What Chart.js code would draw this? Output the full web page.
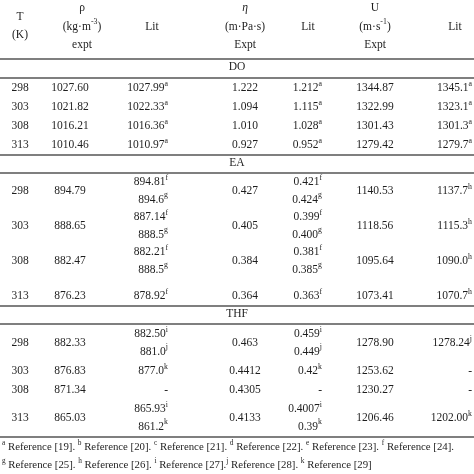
<!DOCTYPE html>
<html><head><meta charset="utf-8">
<script src="https://cdn.jsdelivr.net/npm/chart.js@4"></script>
<style>html,body{margin:0;padding:0;background:#fff}#w{width:474px;height:474px}</style>
</head><body><div id="w"><canvas id="c"></canvas></div>
<script>
const temps=[298,303,308,313];
const sections=["DO","EA","THF"];
const rhoExpt=[["1027.60","1021.82","1016.21","1010.46"],["894.79","888.65","882.47","876.23"],["882.33","876.83","871.34","865.03"]];
const rhoLit=[["1027.99^a","1022.33^a","1016.36^a","1010.97^a"],["894.81^f|894.6^g","887.14^f|888.5^g","882.21^f|888.5^g","878.92^f"],["882.50^i|881.0^j","877.0^k","-","865.93^i|861.2^k"]];
const etaExpt=[["1.222","1.094","1.010","0.927"],["0.427","0.405","0.384","0.364"],["0.463","0.4412","0.4305","0.4133"]];
const etaLit=[["1.212^a","1.115^a","1.028^a","0.952^a"],["0.421^f|0.424^g","0.399^f|0.400^g","0.381^f|0.385^g","0.363^f"],["0.459^i|0.449^j","0.42^k","-","0.4007^i|0.39^k"]];
const uExpt=[["1344.87","1322.99","1301.43","1279.42"],["1140.53","1118.56","1095.64","1073.41"],["1278.90","1253.62","1230.27","1206.46"]];
const uLit=[["1345.1^a","1323.1^a","1301.3^a","1279.7^a"],["1137.7^h","1115.3^h","1090.0^h","1070.7^h"],["1278.24^j","-","-","1202.00^k"]];
const headers=[["T|(K)"],["ρ|(kg·m^-3^)|expt"],["Lit"],["η|(m·Pa·s)|Expt"],["Lit"],["U|(m·s^-1^)|Expt"],["Lit"]];
const footnotes=["^a^ Reference [19]. ^b^ Reference [20]. ^c^ Reference [21]. ^d^ Reference [22]. ^e^ Reference [23]. ^f^ Reference [24].","^g^ Reference [25]. ^h^ Reference [26]. ^i^ Reference [27].^j^ Reference [28]. ^k^ Reference [29]"];

// layout (not data)
const colX=[20,70,168,245,322,375,472];
const headX=[20,82,152,245,308,375,455];
const colAlign=['c','c','r','c','r','c','r'];
const rowY=[[88,107,126,145],[191,226,261,296],[343,371,390,418]];
const secY=[67,163,314];
const rules=[59,78,155,173,306,324,437];
const lineGap=17.5;

const pts=[];
sections.forEach((s,si)=>temps.forEach((t,ti)=>{
  const cells=[String(t),rhoExpt[si][ti],rhoLit[si][ti],etaExpt[si][ti],etaLit[si][ti],uExpt[si][ti],uLit[si][ti]];
  cells.forEach((txt,ci)=>pts.push({x:colX[ci],y:rowY[si][ti],txt,al:colAlign[ci]}));
}));
const F='"Liberation Serif","DejaVu Serif",serif';
function drawRich(ctx,str,x,y,al,size,ital){
  const parts=[];
  if(str.match(/\^[^^]+\^/)){
    str.split('^').forEach((p,i)=>{if(p)parts.push({t:p,sup:i%2===1});});
  }else if(str.includes('^')){
    const [a,b]=str.split('^');parts.push({t:a,sup:false});parts.push({t:b,sup:true});
  }else parts.push({t:str,sup:false});
  const fs=p=>(ital?'italic ':'')+(p.sup?size*0.68:size)+'px '+F;
  let w=0;parts.forEach(p=>{ctx.font=fs(p);p.w=ctx.measureText(p.t).width;w+=p.w;});
  let sx=al==='c'?x-w/2:al==='r'?x-w:x;
  parts.forEach(p=>{ctx.font=fs(p);ctx.fillText(p.t,sx,p.sup?y-size*0.38:y);sx+=p.w;});
}
const tablePlugin={id:'tbl',afterDatasetsDraw(chart){
  const ctx=chart.ctx,xs=chart.scales.x,ys=chart.scales.y;
  ctx.save();ctx.fillStyle='#1e1e1e';ctx.textBaseline='middle';
  const size=11.5;
  ctx.strokeStyle='#555';ctx.lineWidth=1.4;
  rules.forEach(r=>{const py=ys.getPixelForValue(r);ctx.beginPath();ctx.moveTo(xs.getPixelForValue(0),py);ctx.lineTo(xs.getPixelForValue(474),py);ctx.stroke();});
  headers.forEach((h,ci)=>{
    const lines=h[0].split('|');
    const ys0=lines.length===3?[8,26.5,45]:lines.length===2?[17,35]:[26.5];
    lines.forEach((l,li)=>drawRich(ctx,l,xs.getPixelForValue(headX[ci]),ys.getPixelForValue(ys0[li]),'c',size,l==='η'));
  });
  sections.forEach((s,si)=>drawRich(ctx,s,xs.getPixelForValue(237),ys.getPixelForValue(secY[si]),'c',size));
  chart.data.datasets[0].data.forEach(p=>{
    const lines=p.txt.split('|');
    lines.forEach((l,li)=>{
      const yy=p.y+(li-(lines.length-1)/2)*lineGap;
      drawRich(ctx,l,xs.getPixelForValue(p.x),ys.getPixelForValue(yy),p.al,size);
    });
  });
  footnotes.forEach((f,i)=>drawRich(ctx,f,xs.getPixelForValue(2),ys.getPixelForValue(447+i*18.5),'l',10.8));
  ctx.restore();
}};
new Chart(document.getElementById('c'),{
  type:'scatter',
  data:{datasets:[{data:pts,pointRadius:0}]},
  options:{responsive:true,maintainAspectRatio:false,animation:false,
    layout:{padding:0},
    plugins:{legend:{display:false},tooltip:{enabled:false}},
    scales:{x:{type:'linear',min:0,max:474,display:false},y:{type:'linear',min:0,max:474,reverse:true,display:false}}},
  plugins:[tablePlugin]
});
</script></body></html>
